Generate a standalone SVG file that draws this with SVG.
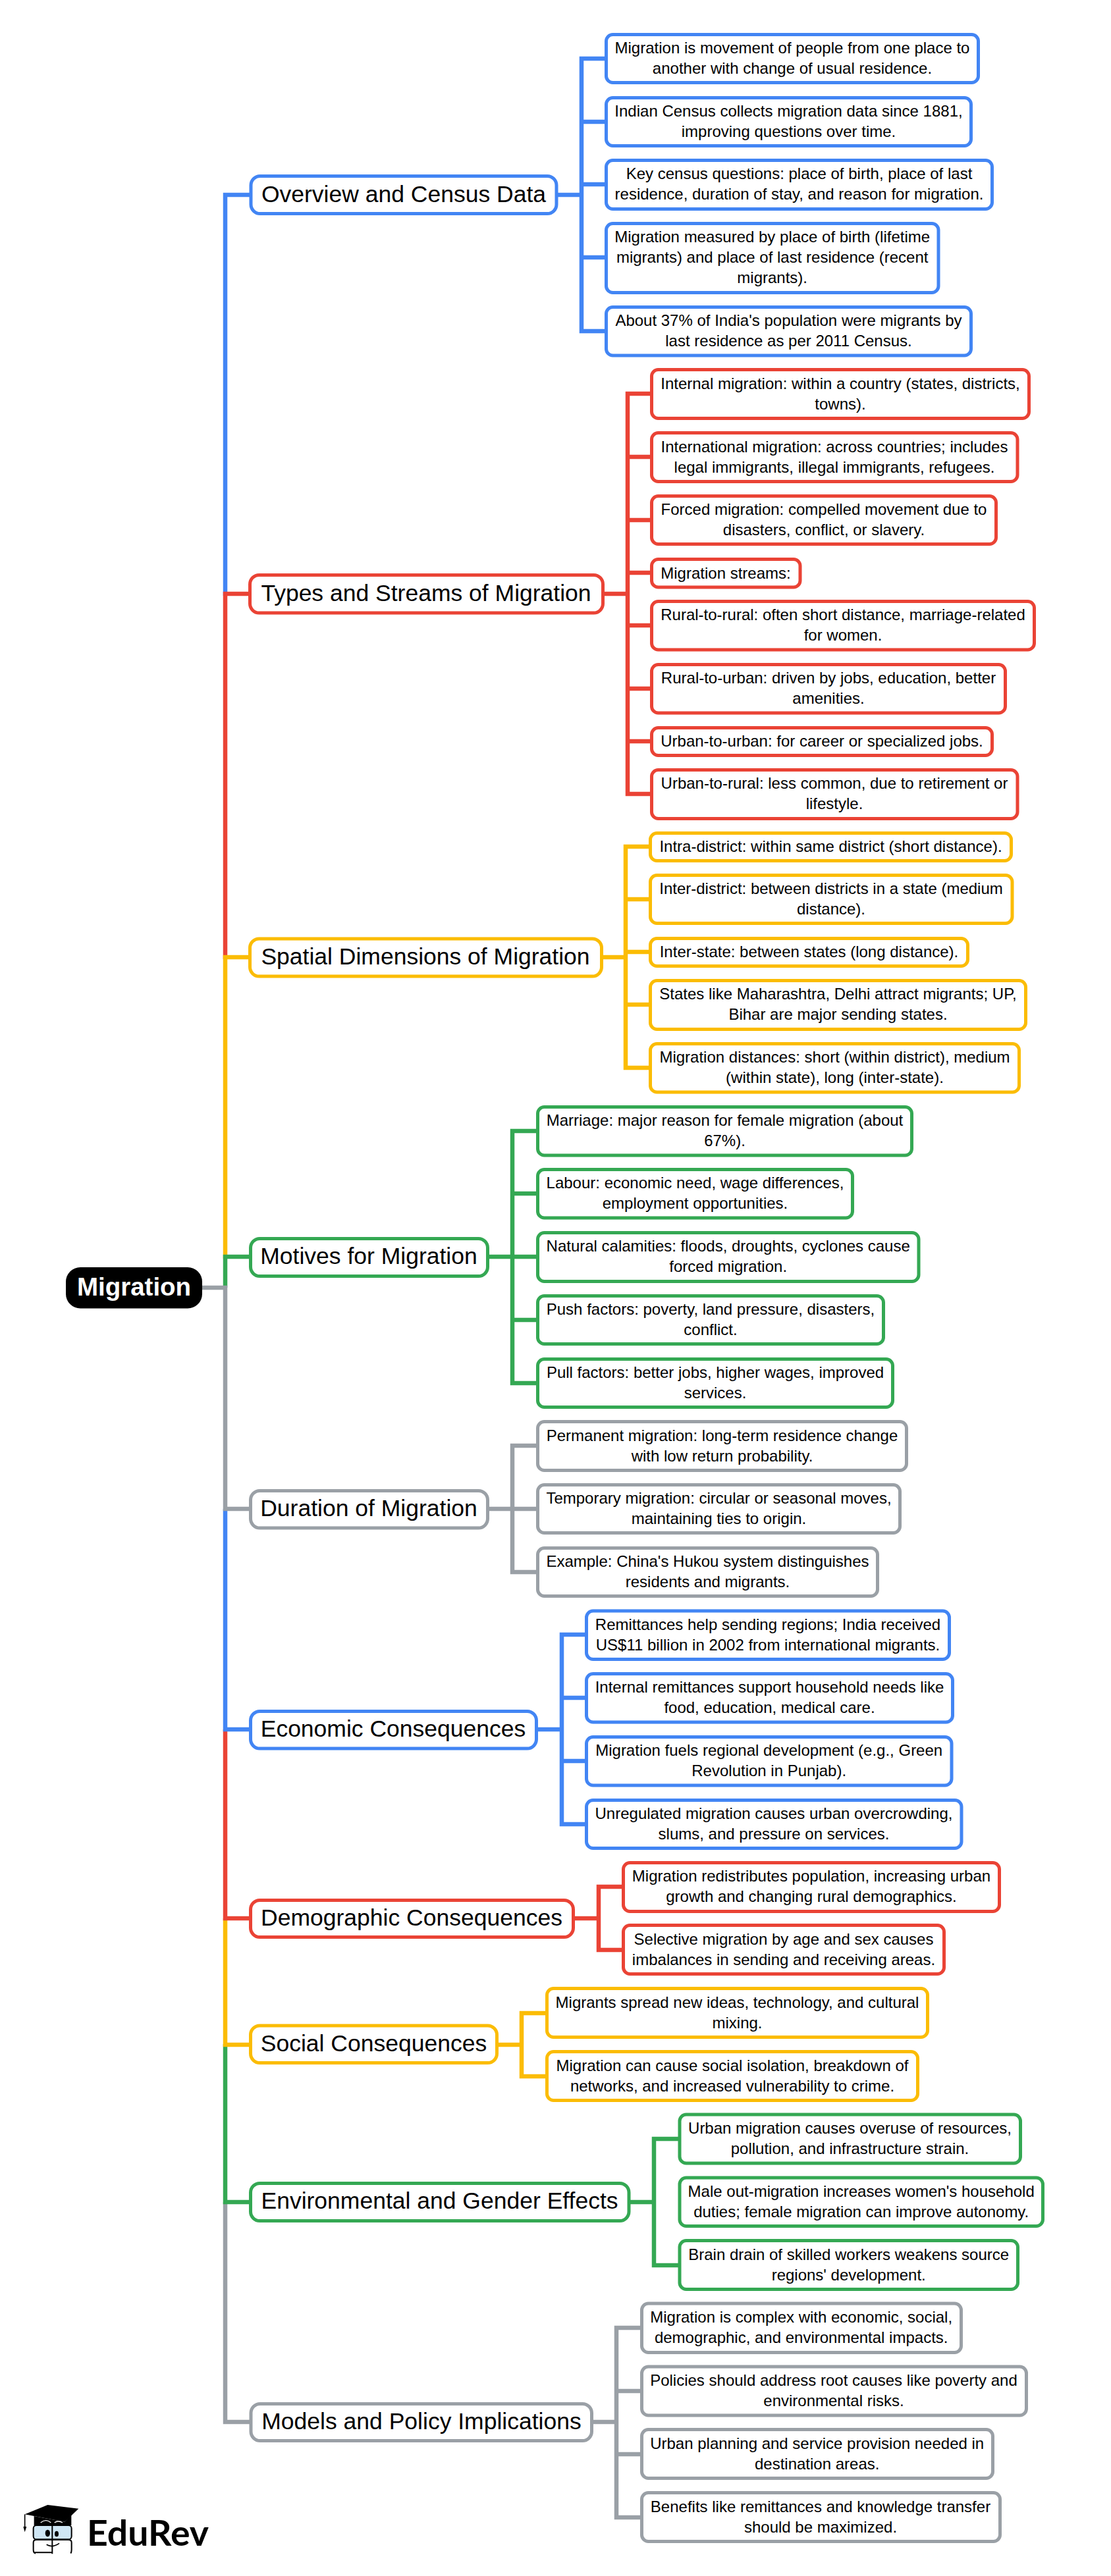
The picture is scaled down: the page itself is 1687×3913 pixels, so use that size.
<svg xmlns="http://www.w3.org/2000/svg" width="1687" height="3913" viewBox="0 0 1687 3913">
<style>
text{font-family:"Liberation Sans",Arial,sans-serif;fill:#000;text-anchor:middle}
.t{font-size:24px}
.h{font-size:35.5px}
.root{font-size:38.5px;font-weight:700;fill:#fff}
rect{fill:#fff;stroke-width:5}
.c path{fill:none;stroke-width:6.5;stroke-linejoin:miter}
.blue{stroke:#4285F4}.red{stroke:#EA4335}.yellow{stroke:#FBBC04}.green{stroke:#34A853}.grey{stroke:#9AA0A6}
</style>
<rect width="1687" height="3913" style="fill:#fff;stroke:none"/>
<g id="connectors" class="c">
<path class="blue" d="M380 296H342V905"/>
<path class="red" d="M378 902H342V1457"/>
<path class="yellow" d="M378 1454H342V1912"/>
<path class="green" d="M379 1909H342V1956"/>
<path class="grey" d="M342 3345V3679H380"/>
<path class="green" d="M342 3105V3345H379"/>
<path class="yellow" d="M342 2914V3106H379"/>
<path class="red" d="M342 2627V2914H379"/>
<path class="blue" d="M342 2292V2627H380"/>
<path class="grey" d="M306 1956H342V2292H380"/>
<path class="blue" d="M846 296H883M920 89H883V503H920M883 185H920M883 280H920M883 391H920"/>
<path class="red" d="M916 902H953M989 598H953V1206H989M953 694H989M953 790H989M953 870H989M953 950H989M953 1046H989M953 1126H989"/>
<path class="yellow" d="M914 1454H950M987 1286H950V1622H987M950 1366H987M950 1446H987M950 1526H987"/>
<path class="green" d="M741 1909H778M816 1718H778V2101H816M778 1813H816M778 1909H816M778 2005H816"/>
<path class="grey" d="M741 2292H778M816 2196H778V2388H816M778 2292H816"/>
<path class="blue" d="M815 2627H853M890 2483H853V2771H890M853 2579H890M853 2675H890"/>
<path class="red" d="M871 2914H909M946 2866H909V2962H946"/>
<path class="yellow" d="M755 3106H792M830 3058H792V3154H830"/>
<path class="green" d="M956 3345H993M1031 3249H993V3441H1031"/>
<path class="grey" d="M899 3679H936M974 3536H936V3824H974M936 3632H974M936 3728H974"/>
</g>
<g id="root"><rect x="100" y="1925" width="207" height="62.5" rx="22" style="fill:#000;stroke:none"/><text class="root" x="203.5" y="1968">Migration</text></g>
<g id="overview"><rect class="blue" x="381" y="267.5" width="464" height="57" rx="14"/><text class="h" x="613" y="307">Overview and Census Data</text></g>
<g id="o1"><rect class="blue" x="920.5" y="52.5" width="565" height="73" rx="10"/><text class="t" y="81"><tspan x="1203">Migration is movement of people from one place to</tspan><tspan x="1203" dy="31">another with change of usual residence.</tspan></text></g>
<g id="o2"><rect class="blue" x="920.5" y="148.5" width="554" height="73" rx="10"/><text class="t" y="177"><tspan x="1197.5">Indian Census collects migration data since 1881,</tspan><tspan x="1197.5" dy="31">improving questions over time.</tspan></text></g>
<g id="o3"><rect class="blue" x="920.5" y="243.5" width="586" height="74" rx="10"/><text class="t" y="272"><tspan x="1213.5">Key census questions: place of birth, place of last</tspan><tspan x="1213.5" dy="31">residence, duration of stay, and reason for migration.</tspan></text></g>
<g id="o4"><rect class="blue" x="920.5" y="339.5" width="504.5" height="105" rx="10"/><text class="t" y="368"><tspan x="1172.7">Migration measured by place of birth (lifetime</tspan><tspan x="1172.7" dy="31">migrants) and place of last residence (recent</tspan><tspan x="1172.7" dy="31">migrants).</tspan></text></g>
<g id="o5"><rect class="blue" x="920.5" y="466.5" width="554" height="73.5" rx="10"/><text class="t" y="495"><tspan x="1197.5">About 37% of India's population were migrants by</tspan><tspan x="1197.5" dy="31">last residence as per 2011 Census.</tspan></text></g>
<g id="types"><rect class="red" x="379.5" y="873.5" width="536" height="57.5" rx="14"/><text class="h" x="647" y="913">Types and Streams of Migration</text></g>
<g id="t1"><rect class="red" x="989.5" y="561.5" width="573" height="74" rx="10"/><text class="t" y="591"><tspan x="1276">Internal migration: within a country (states, districts,</tspan><tspan x="1276" dy="31">towns).</tspan></text></g>
<g id="t2"><rect class="red" x="989.5" y="657.5" width="555.5" height="74" rx="10"/><text class="t" y="687"><tspan x="1267">International migration: across countries; includes</tspan><tspan x="1267" dy="31">legal immigrants, illegal immigrants, refugees.</tspan></text></g>
<g id="t3"><rect class="red" x="989.5" y="753.5" width="523" height="73" rx="10"/><text class="t" y="782"><tspan x="1251">Forced migration: compelled movement due to</tspan><tspan x="1251" dy="31">disasters, conflict, or slavery.</tspan></text></g>
<g id="t4"><rect class="red" x="989.5" y="849.5" width="225.5" height="42.5" rx="10"/><text class="t" x="1102" y="878.5">Migration streams:</text></g>
<g id="t5"><rect class="red" x="989.5" y="913.5" width="581" height="73.5" rx="10"/><text class="t" y="942"><tspan x="1280">Rural-to-rural: often short distance, marriage-related</tspan><tspan x="1280" dy="31">for women.</tspan></text></g>
<g id="t6"><rect class="red" x="989.5" y="1009.5" width="537" height="73.5" rx="10"/><text class="t" y="1038"><tspan x="1258">Rural-to-urban: driven by jobs, education, better</tspan><tspan x="1258" dy="31">amenities.</tspan></text></g>
<g id="t7"><rect class="red" x="989.5" y="1105.5" width="517" height="42" rx="10"/><text class="t" x="1248" y="1134">Urban-to-urban: for career or specialized jobs.</text></g>
<g id="t8"><rect class="red" x="989.5" y="1169.5" width="555.5" height="74" rx="10"/><text class="t" y="1198"><tspan x="1267">Urban-to-rural: less common, due to retirement or</tspan><tspan x="1267" dy="31">lifestyle.</tspan></text></g>
<g id="spatial"><rect class="yellow" x="379.5" y="1426" width="534" height="57" rx="14"/><text class="h" x="646" y="1465">Spatial Dimensions of Migration</text></g>
<g id="s1"><rect class="yellow" x="987.5" y="1265.5" width="548" height="42" rx="10"/><text class="t" x="1261.5" y="1294">Intra-district: within same district (short distance).</text></g>
<g id="s2"><rect class="yellow" x="987.5" y="1329.5" width="549.5" height="73" rx="10"/><text class="t" y="1358"><tspan x="1262">Inter-district: between districts in a state (medium</tspan><tspan x="1262" dy="31">distance).</tspan></text></g>
<g id="s3"><rect class="yellow" x="987.5" y="1425.5" width="482" height="42" rx="10"/><text class="t" x="1228.5" y="1454">Inter-state: between states (long distance).</text></g>
<g id="s4"><rect class="yellow" x="987.5" y="1489.5" width="570" height="74" rx="10"/><text class="t" y="1518"><tspan x="1272.5">States like Maharashtra, Delhi attract migrants; UP,</tspan><tspan x="1272.5" dy="31">Bihar are major sending states.</tspan></text></g>
<g id="s5"><rect class="yellow" x="987.5" y="1585.5" width="560" height="73.5" rx="10"/><text class="t" y="1614"><tspan x="1267.5">Migration distances: short (within district), medium</tspan><tspan x="1267.5" dy="31">(within state), long (inter-state).</tspan></text></g>
<g id="motives"><rect class="green" x="380.5" y="1881.5" width="360" height="57" rx="14"/><text class="h" x="560" y="1920">Motives for Migration</text></g>
<g id="m1"><rect class="green" x="816.5" y="1681.5" width="568" height="73.5" rx="10"/><text class="t" y="1710"><tspan x="1100.5">Marriage: major reason for female migration (about</tspan><tspan x="1100.5" dy="31">67%).</tspan></text></g>
<g id="m2"><rect class="green" x="816.5" y="1776.5" width="478" height="73.5" rx="10"/><text class="t" y="1805"><tspan x="1055.5">Labour: economic need, wage differences,</tspan><tspan x="1055.5" dy="31">employment opportunities.</tspan></text></g>
<g id="m3"><rect class="green" x="816.5" y="1872.5" width="578.5" height="74" rx="10"/><text class="t" y="1901"><tspan x="1105.7">Natural calamities: floods, droughts, cyclones cause</tspan><tspan x="1105.7" dy="31">forced migration.</tspan></text></g>
<g id="m4"><rect class="green" x="816.5" y="1968.5" width="525" height="73" rx="10"/><text class="t" y="1997"><tspan x="1079">Push factors: poverty, land pressure, disasters,</tspan><tspan x="1079" dy="31">conflict.</tspan></text></g>
<g id="m5"><rect class="green" x="816.5" y="2064.5" width="539" height="73" rx="10"/><text class="t" y="2093"><tspan x="1086">Pull factors: better jobs, higher wages, improved</tspan><tspan x="1086" dy="31">services.</tspan></text></g>
<g id="duration"><rect class="grey" x="380.5" y="2264.5" width="360" height="56.5" rx="14"/><text class="h" x="560" y="2303">Duration of Migration</text></g>
<g id="d1"><rect class="grey" x="816.5" y="2159.5" width="560" height="74" rx="10"/><text class="t" y="2188.5"><tspan x="1096.5">Permanent migration: long-term residence change</tspan><tspan x="1096.5" dy="31">with low return probability.</tspan></text></g>
<g id="d2"><rect class="grey" x="816.5" y="2255.5" width="550" height="73" rx="10"/><text class="t" y="2284"><tspan x="1091.5">Temporary migration: circular or seasonal moves,</tspan><tspan x="1091.5" dy="31">maintaining ties to origin.</tspan></text></g>
<g id="d3"><rect class="grey" x="816.5" y="2351.5" width="516" height="73" rx="10"/><text class="t" y="2380"><tspan x="1074.5">Example: China's Hukou system distinguishes</tspan><tspan x="1074.5" dy="31">residents and migrants.</tspan></text></g>
<g id="economic"><rect class="blue" x="380.5" y="2599.5" width="434" height="56.5" rx="14"/><text class="h" x="597" y="2638">Economic Consequences</text></g>
<g id="e1"><rect class="blue" x="890.5" y="2447" width="551" height="73.5" rx="10"/><text class="t" y="2475.5"><tspan x="1166">Remittances help sending regions; India received</tspan><tspan x="1166" dy="31">US$11 billion in 2002 from international migrants.</tspan></text></g>
<g id="e2"><rect class="blue" x="890.5" y="2542.5" width="556" height="73.5" rx="10"/><text class="t" y="2571"><tspan x="1168.5">Internal remittances support household needs like</tspan><tspan x="1168.5" dy="31">food, education, medical care.</tspan></text></g>
<g id="e3"><rect class="blue" x="890.5" y="2638.5" width="554.5" height="73.5" rx="10"/><text class="t" y="2667"><tspan x="1167.7">Migration fuels regional development (e.g., Green</tspan><tspan x="1167.7" dy="31">Revolution in Punjab).</tspan></text></g>
<g id="e4"><rect class="blue" x="890.5" y="2734.5" width="569.5" height="73" rx="10"/><text class="t" y="2763"><tspan x="1175">Unregulated migration causes urban overcrowding,</tspan><tspan x="1175" dy="31">slums, and pressure on services.</tspan></text></g>
<g id="demographic"><rect class="red" x="380.5" y="2886.5" width="490" height="56" rx="14"/><text class="h" x="625" y="2925">Demographic Consequences</text></g>
<g id="de1"><rect class="red" x="946.5" y="2829.5" width="571" height="74" rx="10"/><text class="t" y="2858"><tspan x="1232">Migration redistributes population, increasing urban</tspan><tspan x="1232" dy="31">growth and changing rural demographics.</tspan></text></g>
<g id="de2"><rect class="red" x="946.5" y="2924.5" width="487" height="74" rx="10"/><text class="t" y="2954"><tspan x="1190">Selective migration by age and sex causes</tspan><tspan x="1190" dy="31">imbalances in sending and receiving areas.</tspan></text></g>
<g id="social"><rect class="yellow" x="380.5" y="3077" width="374" height="56.5" rx="14"/><text class="h" x="567.5" y="3116">Social Consequences</text></g>
<g id="so1"><rect class="yellow" x="830.5" y="3020.5" width="578" height="74" rx="10"/><text class="t" y="3050"><tspan x="1119.5">Migrants spread new ideas, technology, and cultural</tspan><tspan x="1119.5" dy="31">mixing.</tspan></text></g>
<g id="so2"><rect class="yellow" x="830.5" y="3116.5" width="563" height="74" rx="10"/><text class="t" y="3146"><tspan x="1112">Migration can cause social isolation, breakdown of</tspan><tspan x="1112" dy="31">networks, and increased vulnerability to crime.</tspan></text></g>
<g id="environmental"><rect class="green" x="380.5" y="3316.5" width="574.5" height="57" rx="14"/><text class="h" x="667.5" y="3355">Environmental and Gender Effects</text></g>
<g id="en1"><rect class="green" x="1032" y="3212" width="517.5" height="74" rx="10"/><text class="t" y="3241"><tspan x="1290.5">Urban migration causes overuse of resources,</tspan><tspan x="1290.5" dy="31">pollution, and infrastructure strain.</tspan></text></g>
<g id="en2"><rect class="green" x="1032" y="3308" width="551.5" height="73.5" rx="10"/><text class="t" y="3337"><tspan x="1307.7">Male out-migration increases women's household</tspan><tspan x="1307.7" dy="31">duties; female migration can improve autonomy.</tspan></text></g>
<g id="en3"><rect class="green" x="1032" y="3403.5" width="513.5" height="74" rx="10"/><text class="t" y="3433"><tspan x="1288.7">Brain drain of skilled workers weakens source</tspan><tspan x="1288.7" dy="31">regions' development.</tspan></text></g>
<g id="models"><rect class="grey" x="381" y="3651.5" width="517.5" height="56" rx="14"/><text class="h" x="640" y="3690">Models and Policy Implications</text></g>
<g id="p1"><rect class="grey" x="974.5" y="3499" width="485" height="74.5" rx="10"/><text class="t" y="3528"><tspan x="1216.7">Migration is complex with economic, social,</tspan><tspan x="1216.7" dy="31">demographic, and environmental impacts.</tspan></text></g>
<g id="p2"><rect class="grey" x="974.5" y="3595" width="584" height="74" rx="10"/><text class="t" y="3624"><tspan x="1266">Policies should address root causes like poverty and</tspan><tspan x="1266" dy="31">environmental risks.</tspan></text></g>
<g id="p3"><rect class="grey" x="974.5" y="3690.5" width="533" height="74" rx="10"/><text class="t" y="3720"><tspan x="1240.7">Urban planning and service provision needed in</tspan><tspan x="1240.7" dy="31">destination areas.</tspan></text></g>
<g id="p4"><rect class="grey" x="974.5" y="3786.5" width="544" height="74" rx="10"/><text class="t" y="3816"><tspan x="1246">Benefits like remittances and knowledge transfer</tspan><tspan x="1246" dy="31">should be maximized.</tspan></text></g>
<g id="logo">
<g transform="translate(0 3760) scale(.3333)">
<path d="M113 178L217 135L358 152L295 212Z" style="fill:#000"/>
<path d="M155 186V228H325V178L295 212Z" style="fill:#000"/>
<path d="M113 178V235" style="fill:none;stroke:#000;stroke-width:5"/>
<path d="M106 234H121L113 259Z" style="fill:#000"/>
<rect x="152" y="228" width="174" height="64" rx="14" style="fill:#cfe6f4;stroke:#000;stroke-width:6"/>
<path d="M185 216Q210 196 232 216M248 216Q265 204 285 216" style="fill:none;stroke:#fff;stroke-width:4"/>
<path d="M162 356Q152 354 152 340V306Q152 294 166 294H312Q326 294 326 306V340Q326 350 322 356M152 352H238" style="fill:none;stroke:#000;stroke-width:6"/>
<path d="M238 226V358" style="fill:none;stroke:#000;stroke-width:6"/>
<ellipse cx="217" cy="264" rx="11" ry="16" style="fill:#000"/>
<ellipse cx="258" cy="267" rx="9" ry="13" style="fill:#000"/>
<path d="M212 316Q238 332 270 310" style="fill:none;stroke:#000;stroke-width:5"/>
</g>
<text x="132" y="3867" textLength="185" lengthAdjust="spacingAndGlyphs" style="font-family:Lato,'Open Sans',sans-serif;font-size:54px;font-weight:700;text-anchor:start">EduRev</text>
</g>
</svg>
